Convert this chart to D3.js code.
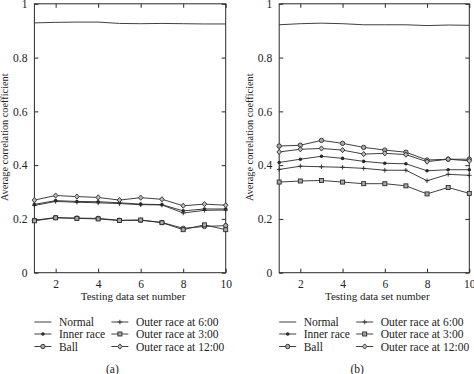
<!DOCTYPE html>
<html>
<head>
<meta charset="utf-8">
<script src="https://cdn.jsdelivr.net/npm/d3@7"></script>
<style>
  body { margin: 0; background: #fff; }
  svg text { font-family: "Liberation Serif", "DejaVu Serif", serif; fill: #222; }
</style>
</head>
<body>
<div id="container"></div>
<script>
// data
const dataSets = [1, 2, 3, 4, 5, 6, 7, 8, 9, 10];
const seriesNames = ["Normal", "Inner race", "Ball", "Outer race at 6:00", "Outer race at 3:00", "Outer race at 12:00"];
const yTicks = [0, 0.2, 0.4, 0.6, 0.8, 1];
const xTicks = [2, 4, 6, 8, 10];
const panelLabels = ["(a)", "(b)"];

// panel (a)
const normalA = [0.929, 0.931, 0.932, 0.932, 0.927, 0.926, 0.927, 0.926, 0.925, 0.925];
const innerA = [0.254, 0.268, 0.265, 0.264, 0.260, 0.255, 0.253, 0.230, 0.237, 0.237];
const ballA = [0.195, 0.205, 0.203, 0.202, 0.195, 0.195, 0.187, 0.165, 0.172, 0.175];
const outer600A = [0.250, 0.265, 0.262, 0.260, 0.257, 0.253, 0.252, 0.222, 0.232, 0.233];
const outer300A = [0.193, 0.204, 0.202, 0.200, 0.194, 0.196, 0.186, 0.160, 0.178, 0.160];
const outer1200A = [0.270, 0.287, 0.283, 0.280, 0.270, 0.279, 0.273, 0.249, 0.255, 0.251];

// panel (b)
const normalB = [0.922, 0.926, 0.928, 0.926, 0.922, 0.922, 0.922, 0.919, 0.921, 0.920];
const innerB = [0.410, 0.422, 0.433, 0.425, 0.414, 0.407, 0.405, 0.379, 0.383, 0.383];
const ballB = [0.471, 0.474, 0.492, 0.481, 0.466, 0.456, 0.448, 0.419, 0.422, 0.422];
const outer600B = [0.384, 0.396, 0.394, 0.392, 0.388, 0.381, 0.381, 0.342, 0.366, 0.362];
const outer300B = [0.337, 0.341, 0.343, 0.337, 0.331, 0.331, 0.323, 0.293, 0.317, 0.295];
const outer1200B = [0.449, 0.459, 0.462, 0.456, 0.441, 0.444, 0.439, 0.413, 0.422, 0.416];

const panels = [
  [normalA, innerA, ballA, outer600A, outer300A, outer1200A],
  [normalB, innerB, ballB, outer600B, outer300B, outer1200B]
];
const markers = ["none", "dot", "circle", "plus", "square", "diamond"];

const W = 474, H = 374;
const ink = "#2a2a2a";
const svg = d3.select("#container").append("svg").attr("width", W).attr("height", H);

const panelBox = [
  { x0: 34.4, x1: 225.7 },
  { x0: 279.2, x1: 469.3 }
];
const plotTop = 3.8, plotBottom = 272.7;

const y = d3.scaleLinear().domain([0, 1]).range([plotBottom, plotTop]);

function drawMarker(g, type, cx, cy) {
  if (type === "dot") {
    g.append("circle").attr("cx", cx).attr("cy", cy).attr("r", 1.8).attr("fill", ink);
  } else if (type === "circle") {
    g.append("circle").attr("cx", cx).attr("cy", cy).attr("r", 2.2)
      .attr("fill", "#aaa").attr("stroke", ink).attr("stroke-width", 0.9);
  } else if (type === "square") {
    g.append("rect").attr("x", cx - 2).attr("y", cy - 2).attr("width", 4).attr("height", 4)
      .attr("fill", "#aaa").attr("stroke", ink).attr("stroke-width", 0.9);
  } else if (type === "diamond") {
    g.append("path").attr("d", `M${cx},${cy - 2.6}L${cx + 2.3},${cy}L${cx},${cy + 2.6}L${cx - 2.3},${cy}Z`)
      .attr("fill", "#bbb").attr("stroke", ink).attr("stroke-width", 0.9);
  } else if (type === "plus") {
    g.append("path").attr("d", `M${cx - 2.3},${cy}H${cx + 2.3}M${cx},${cy - 2.3}V${cy + 2.3}`)
      .attr("stroke", ink).attr("stroke-width", 0.9);
  }
}

panels.forEach((series, p) => {
  const box = panelBox[p];
  const x = d3.scaleLinear().domain([1, 10]).range([box.x0, box.x1]);
  const g = svg.append("g");

  // frame
  g.append("rect").attr("x", box.x0).attr("y", plotTop)
    .attr("width", box.x1 - box.x0).attr("height", plotBottom - plotTop)
    .attr("fill", "none").attr("stroke", ink).attr("stroke-width", 1);

  // inward ticks
  const axisB = d3.axisBottom(x).tickValues(xTicks).tickSizeInner(-4).tickSizeOuter(0).tickPadding(7);
  const axisT = d3.axisTop(x).tickValues(xTicks).tickSizeInner(-4).tickSizeOuter(0).tickFormat("");
  const axisL = d3.axisLeft(y).tickValues(yTicks).tickSizeInner(-4).tickSizeOuter(0).tickPadding(7)
    .tickFormat(d => d === 0 ? "0" : d === 1 ? "1" : d3.format(".1f")(d));
  const axisR = d3.axisRight(y).tickValues(yTicks).tickSizeInner(-4).tickSizeOuter(0).tickFormat("");

  [[axisB, `translate(0,${plotBottom})`], [axisT, `translate(0,${plotTop})`],
   [axisL, `translate(${box.x0},0)`], [axisR, `translate(${box.x1},0)`]].forEach(([ax, tr]) => {
    const a = g.append("g").attr("transform", tr).call(ax);
    a.select(".domain").remove();
    a.selectAll("line").attr("stroke", ink);
    a.selectAll("text").attr("font-size", 11.5).attr("fill", ink)
      .attr("font-family", "'Liberation Serif', 'DejaVu Serif', serif");
  });

  // lines and markers
  series.forEach((vals, s) => {
    const line = d3.line().x((d, i) => x(dataSets[i])).y(d => y(d));
    g.append("path").datum(vals).attr("d", line)
      .attr("fill", "none").attr("stroke", ink).attr("stroke-width", 0.9);
    vals.forEach((v, i) => drawMarker(g, markers[s], x(dataSets[i]), y(v)));
  });

  // axis titles
  g.append("text").attr("x", (box.x0 + box.x1) / 2 + 3).attr("y", 300)
    .attr("text-anchor", "middle").attr("font-size", 11).text("Testing data set number");
  g.append("text")
    .attr("transform", `translate(${box.x0 - 26},${(plotTop + plotBottom) / 2 - 1}) rotate(-90)`)
    .attr("text-anchor", "middle").attr("font-size", 10.3).text("Average correlation coefficient");

  // legend
  const rows = [322, 334, 346.5];
  seriesNames.forEach((name, s) => {
    const col = Math.floor(s / 3), row = s % 3;
    const lx = box.x0 + (col === 0 ? 0 : 77);
    const ly = rows[row];
    g.append("line").attr("x1", lx).attr("x2", lx + 17).attr("y1", ly).attr("y2", ly)
      .attr("stroke", ink).attr("stroke-width", 0.9);
    drawMarker(g, markers[s], lx + 8.5, ly);
    g.append("text").attr("x", lx + 24.5).attr("y", ly + 4).attr("font-size", 11.5).text(name);
  });

  g.append("text").attr("x", box.x0 + 78).attr("y", 373).attr("text-anchor", "middle")
    .attr("font-size", 11.5).text(panelLabels[p]);
});
</script>
</body>
</html>
